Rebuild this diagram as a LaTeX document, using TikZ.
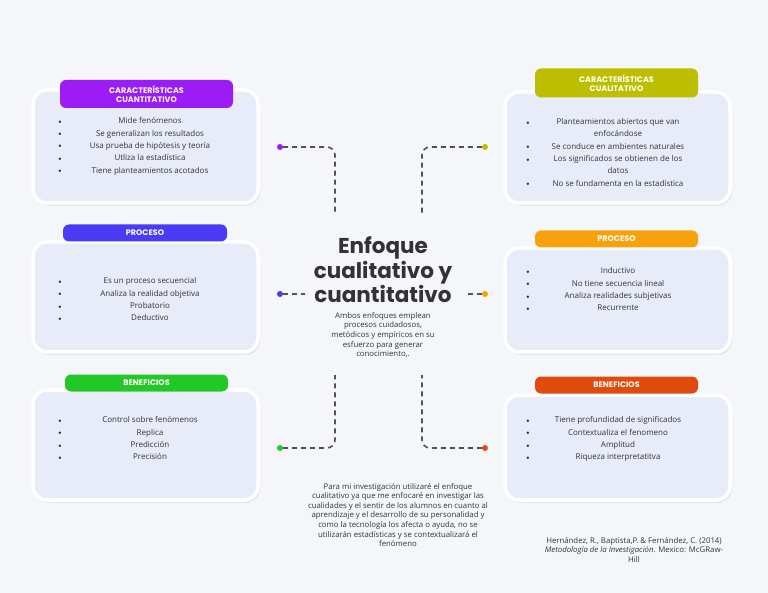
\documentclass[tikz,border=0pt]{standalone}
\usepackage{fontspec}
\usepackage{array}
\setmainfont{Open Sans}
\newfontfamily\pop{Poppins}
\usetikzlibrary{shadows}
\definecolor{bg}{HTML}{F4F6FA}
\definecolor{boxf}{HTML}{E7ECF8}
\definecolor{txt}{HTML}{333333}
\definecolor{cpur}{HTML}{9B1CF5}
\definecolor{cblu}{HTML}{4B3BF5}
\definecolor{cgrn}{HTML}{22C825}
\definecolor{coli}{HTML}{BDBE00}
\definecolor{cora}{HTML}{F7A20C}
\definecolor{cred}{HTML}{E04A0C}
\tikzset{
 card/.style={draw=white,line width=3.5pt,fill=boxf,rounded corners=14pt,drop shadow={shadow xshift=2pt,shadow yshift=-3pt,opacity=0.12}},
 pill/.style={rounded corners=6pt,text=white,font=\pop\bfseries\fontsize{8}{9}\selectfont,align=center,inner sep=0pt},
 lst/.style={text=txt,font=\fontsize{8}{11}\selectfont,inner sep=0pt},
 conn/.style={draw=txt!85,line width=1.6pt,dash pattern=on 5pt off 4pt,rounded corners=8pt},
 dot/.style={circle,inner sep=0pt,minimum size=6pt}
}
\newcolumntype{B}{>{\tiny}p{8pt}}
\newcolumntype{T}{>{\centering\arraybackslash}p{160pt}}
\newenvironment{blist}{\renewcommand{\arraystretch}{1.12}\begin{tabular}{@{}B@{\hspace{4pt}}T@{}}}{\end{tabular}}
\newcommand{\bi}{\raisebox{0.6pt}{$\bullet$}&}
\begin{document}
\begin{tikzpicture}[x=1pt,y=-1pt]
\fill[bg] (0,0) rectangle (768,593);
\useasboundingbox (0,0) rectangle (768,593);
% cards
\path[card] (33,90) rectangle (258,203);
\path[card] (33,242) rectangle (258,352);
\path[card] (33,390) rectangle (258,500);
\path[card] (505,92) rectangle (730,203);
\path[card] (505,248) rectangle (730,352);
\path[card] (505,395) rectangle (730,500);
% pills
\node[pill,fill=cpur,minimum width=173pt,minimum height=28pt] (p1) at (146.5,94) {CARACTERÍSTICAS\\CUANTITATIVO};
\node[pill,fill=cblu,minimum width=164pt,minimum height=17pt] (p2) at (145,233) {PROCESO};
\node[pill,fill=cgrn,minimum width=163pt,minimum height=17pt] (p3) at (146.5,383) {BENEFICIOS};
\node[pill,fill=coli,minimum width=163pt,minimum height=29pt] (p4) at (616.5,83) {CARACTERÍSTICAS\\CUALITATIVO};
\node[pill,fill=cora,minimum width=163pt,minimum height=17pt] (p5) at (616.5,239) {PROCESO};
\node[pill,fill=cred,minimum width=163pt,minimum height=17pt] (p6) at (616.5,385) {BENEFICIOS};
% lists
\node[lst] (l1) at (144,146) {\begin{blist}\bi Mide fenómenos\\\bi Se generalizan los resultados\\\bi Usa prueba de hipótesis y teoría\\\bi Utliza la estadística\\\bi Tiene planteamientos acotados\end{blist}};
\node[lst] (l2) at (144,300) {\begin{blist}\bi Es un proceso secuencial\\\bi Analiza la realidad objetiva\\\bi Probatorio\\\bi Deductivo\end{blist}};
\node[lst] (l3) at (144,439) {\begin{blist}\bi Control sobre fenómenos\\\bi Replica\\\bi Predicción\\\bi Precisión\end{blist}};
\node[lst] (l4) at (612,153) {\begin{blist}\bi Planteamientos abiertos que van\\ & enfocándose\\\bi Se conduce en ambientes naturales\\\bi Los significados se obtienen de los\\ & datos\\\bi No se fundamenta en la estadística\end{blist}};
\node[lst] (l5) at (612,290) {\begin{blist}\bi Inductivo\\\bi No tiene secuencia lineal\\\bi Analiza realidades subjetivas\\\bi Recurrente\end{blist}};
\node[lst] (l6) at (612,439) {\begin{blist}\bi Tiene profundidad  de significados\\\bi Contextualiza el fenomeno\\\bi Amplitud\\\bi Riqueza interpretatitva\end{blist}};
% title
\node[font=\pop\bfseries\fontsize{21.5}{24.5}\selectfont,text=txt,align=center] (t) at (383,270) {Enfoque\\cualitativo y\\cuantitativo};
\node[font=\fontsize{7.8}{9.6}\selectfont,text=txt,align=center] (s) at (383,335) {Ambos enfoques emplean\\procesos cuidadosos,\\metódicos y empíricos en su\\esfuerzo para generar\\conocimiento,.};
\node[font=\fontsize{7.8}{9.6}\selectfont,text=txt,align=center] (n) at (398,515) {Para mi investigación utilizaré el enfoque\\cualitativo ya que me enfocaré en investigar las\\cualidades y el sentir de los alumnos en cuanto al\\aprendizaje y el desarrollo de su personalidad y\\como la tecnología los afecta o ayuda, no se\\utilizarán estadísticas y se contextualizará el\\fenómeno};
\node[font=\fontsize{7.8}{9.6}\selectfont,text=txt,align=center] (r) at (634,550) {Hernández, R., Baptista,P. \& Fernández, C. (2014)\\\textit{Metodología de la Investigación}. Mexico: McGRaw-\\Hill};
% dots
\node[dot,fill=cpur] (d1) at (280,147) {};
\node[dot,fill=cblu] (d2) at (280,294) {};
\node[dot,fill=cgrn] (d3) at (280,448) {};
\node[dot,fill=coli] (d4) at (485,147) {};
\node[dot,fill=cora] (d5) at (485,294) {};
\node[dot,fill=cred] (d6) at (485,448) {};
\coordinate (e1) at (335,213); \coordinate (e4) at (422,213);
\coordinate (e3) at (335,375); \coordinate (e6) at (422,375);
\coordinate (e2) at (305,294); \coordinate (e5) at (465,294);
% connectors
\draw[conn] (d1) -- (335,147) -- (e1);
\draw[conn] (d4) -- (422,147) -- (e4);
\draw[conn] (d3) -- (335,448) -- (e3);
\draw[conn] (d6) -- (422,448) -- (e6);
\draw[conn] (d2) -- (e2);
\draw[conn] (d5) -- (e5);
\end{tikzpicture}
\end{document}
